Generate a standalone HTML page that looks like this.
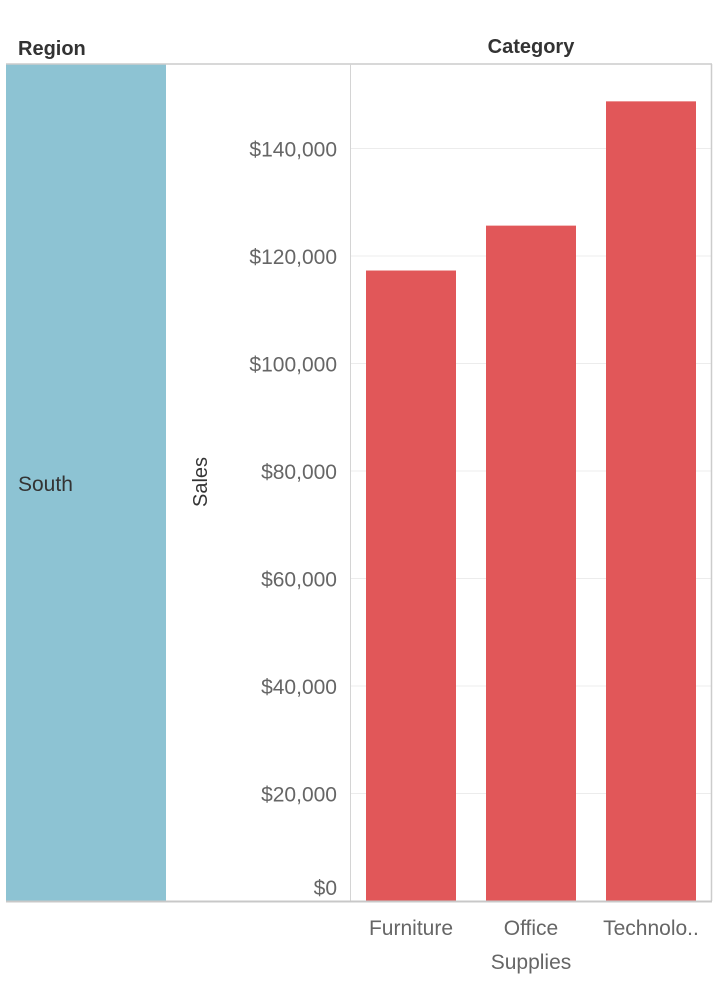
<!DOCTYPE html>
<html><head><meta charset="utf-8"><style>
html,body{margin:0;padding:0;background:#fff;}
svg{display:block;font-family:"Liberation Sans",sans-serif;}
</style></head><body>
<svg id="c" width="728" height="986">
<text x="18" y="55" font-size="20" font-weight="bold" fill="#333">Region</text>
<text x="531" y="53" font-size="20" font-weight="bold" fill="#333" text-anchor="middle">Category</text>
<rect x="6" y="64" width="160" height="837" fill="#8dc3d3"/>
<text x="18" y="491" font-size="21" fill="#333">South</text>
<text transform="translate(207,482) rotate(-90)" font-size="20" fill="#333" text-anchor="middle">Sales</text>
<g id="grid"></g><g id="bars"></g><g id="ticks"></g><g id="xl"></g>
<line x1="6" y1="64" x2="712" y2="64" stroke="#ccc" stroke-width="1.5"/>
<line x1="350.5" y1="64" x2="350.5" y2="901" stroke="#d4d4d4"/>
<line x1="711.5" y1="64" x2="711.5" y2="901" stroke="#ccc" stroke-width="1.5"/>
<line x1="6" y1="901.5" x2="712" y2="901.5" stroke="#c8c8c8" stroke-width="2"/>
</svg>
<script>
const categories=["Furniture","Office Supplies","Technology"];
const labelLines=[["Furniture"],["Office","Supplies"],["Technolo.."]];
const sales=[117299,125651,148772];
const tickValues=[0,20000,40000,60000,80000,100000,120000,140000];
const tickLabels=["$0","$20,000","$40,000","$60,000","$80,000","$100,000","$120,000","$140,000"];
const NS="http://www.w3.org/2000/svg";
const y0=901,pxPer=107.5/20000;
const y=v=>y0-v*pxPer;
const bandX=i=>351+i*120;
function mk(t,a,p){const e=document.createElementNS(NS,t);for(const k in a)e.setAttribute(k,a[k]);p.appendChild(e);return e;}
const grid=document.getElementById('grid'),ticks=document.getElementById('ticks'),bars=document.getElementById('bars'),xl=document.getElementById('xl');
tickValues.forEach((v,i)=>{
 if(v>0){const g=mk('line',{x1:351,x2:711,y1:y(v),y2:y(v),stroke:'#ececec'},grid);
 
 }
 const ty=v===0?y(v)-6:y(v)+8;
 const t=mk('text',{x:337,y:ty,'font-size':21,fill:'#666','text-anchor':'end'},ticks);
 t.textContent=tickLabels[i];
 
 
});
sales.forEach((v,i)=>{
 const r=mk('rect',{x:bandX(i)+15,y:y(v),width:90,height:y0-y(v),fill:'#e15759'},bars);
 
 
 const t=mk('text',{x:bandX(i)+60,y:935,'font-size':21,fill:'#666','text-anchor':'middle'},xl);
 labelLines[i].forEach((s,j)=>{const ts=mk('tspan',{x:bandX(i)+60,dy:j?34:0},t);ts.textContent=s;});
 
 
});
</script>
</body></html>
